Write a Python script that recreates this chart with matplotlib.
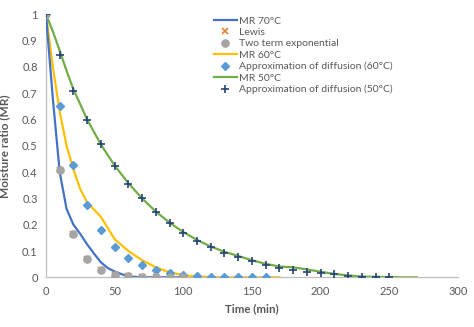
import matplotlib
matplotlib.use("Agg")
import matplotlib.pyplot as plt

plt.rcParams['font.family'] = ['Lato', 'DejaVu Sans']

# MR 70C measured curve (line)
t70_line = [0, 5, 10, 15, 20, 25, 30, 35, 40, 45, 50, 55, 60, 70, 80, 90, 100]
mr70_line = [1, 0.68, 0.40, 0.26, 0.20, 0.165, 0.125, 0.09, 0.057, 0.035, 0.022, 0.012, 0.003, 0, 0, 0, 0]

# Lewis and two term exponential at 70C
t70_pts = [0, 10, 20, 30, 40, 50, 60, 70, 80, 90, 100]
lewis70 = [1, 0.41, 0.165, 0.068, 0.028, 0.010, 0.004, 0.002, 0.001, 0, 0]
twoterm70 = [1, 0.41, 0.165, 0.068, 0.028, 0.010, 0.004, 0.002, 0.001, 0, 0]

# MR 60C measured curve (line)
t60_line = [0, 5, 10, 15, 20, 25, 30, 40, 50, 60, 70, 80, 90, 100, 110, 120, 130, 140, 150, 160, 170]
mr60_line = [1, 0.80, 0.63, 0.50, 0.41, 0.335, 0.285, 0.23, 0.145, 0.10, 0.065, 0.038, 0.019, 0.008,
             0.003, 0.001, 0, 0, 0, 0, 0]

# approximation of diffusion at 60C
t60_pts = [0, 10, 20, 30, 40, 50, 60, 70, 80, 90, 100, 110, 120, 130, 140, 150, 160]
diff60 = [1, 0.65, 0.427, 0.276, 0.178, 0.115, 0.073, 0.046, 0.028, 0.016, 0.009, 0.006, 0.003,
          0.002, 0.001, 0.001, 0.001]

# MR 50C measured curve (line)
t50_line = [0, 5, 10, 15, 20, 30, 40, 50, 60, 70, 80, 90, 100, 110, 120, 130, 140, 150, 160, 170,
            180, 190, 200, 210, 220, 230, 240, 250, 260, 270]
mr50_line = [1, 0.935, 0.862, 0.785, 0.715, 0.60, 0.505, 0.425, 0.358, 0.30, 0.25, 0.208, 0.172, 0.142,
             0.117, 0.097, 0.081, 0.065, 0.051, 0.041, 0.038, 0.030, 0.021, 0.013, 0.007, 0.003,
             0.002, 0.001, 0, 0]

# approximation of diffusion at 50C
t50_pts = [0, 10, 20, 30, 40, 50, 60, 70, 80, 90, 100, 110, 120, 130, 140, 150, 160, 170, 180, 190,
           200, 210, 220, 230, 240, 250]
diff50 = [1, 0.845, 0.71, 0.60, 0.506, 0.425, 0.356, 0.30, 0.247, 0.205, 0.17, 0.138, 0.114, 0.094,
          0.077, 0.061, 0.047, 0.037, 0.029, 0.022, 0.017, 0.011, 0.005, 0.003, 0.002, 0.0]

grey_txt = '#595959'

fig = plt.figure(figsize=(4.74, 3.27), dpi=100)
ax = fig.add_axes([0.097, 0.152, 0.869, 0.804])

ax.plot(t70_line, mr70_line, color='#4472C4', lw=1.6, label='MR 70°C', zorder=3)
ax.plot(t70_pts, lewis70, ls='none', marker='x', ms=4.5, mew=1.2, color='#ED7D31', label='Lewis', zorder=4)
ax.plot(t70_pts, twoterm70, ls='none', marker='o', ms=5.2, color='#A5A5A5', label='Two term exponential', zorder=5)
ax.plot(t60_line, mr60_line, color='#FFC000', lw=1.6, label='MR 60°C', zorder=2)
ax.plot(t60_pts, diff60, ls='none', marker='D', ms=4.2, color='#5B9BD5',
        label='Approximation of diffusion (60°C)', zorder=4)
ax.plot(t50_line, mr50_line, color='#70AD47', lw=1.6, label='MR 50°C', zorder=2)
ax.plot(t50_pts, diff50, ls='none', marker='+', ms=6, mew=1.2, color='#264478',
        label='Approximation of diffusion (50°C)', zorder=6)

ax.set_xlim(0, 300)
ax.set_ylim(0, 1)
ax.set_xticks([0, 50, 100, 150, 200, 250, 300])
ax.set_yticks([0, 0.1, 0.2, 0.3, 0.4, 0.5, 0.6, 0.7, 0.8, 0.9, 1])
ax.set_yticklabels(['0', '0.1', '0.2', '0.3', '0.4', '0.5', '0.6', '0.7', '0.8', '0.9', '1'])
ax.tick_params(length=0, labelsize=8, colors=grey_txt, pad=6)
for s in ['top', 'right']:
    ax.spines[s].set_visible(False)
for s in ['left', 'bottom']:
    ax.spines[s].set_color('#BFBFBF')
    ax.spines[s].set_linewidth(0.9)

ax.set_xlabel('Time (min)', fontsize=8.3, fontweight='bold', color=grey_txt)
ax.set_ylabel('Moisture ratio (MR)', fontsize=8.5, fontweight='bold', color=grey_txt)
ax.xaxis.set_label_coords(0.5, -0.1)
ax.yaxis.set_label_coords(-0.088, 0.5)

leg = ax.legend(loc='upper left', bbox_to_anchor=(0.39, 1.02), frameon=False, fontsize=7.5,
                handlelength=2.2, handletextpad=0.2, labelspacing=0.2, borderpad=0.2)
for txt in leg.get_texts():
    txt.set_color(grey_txt)

fig.savefig('out.png', dpi=100)
